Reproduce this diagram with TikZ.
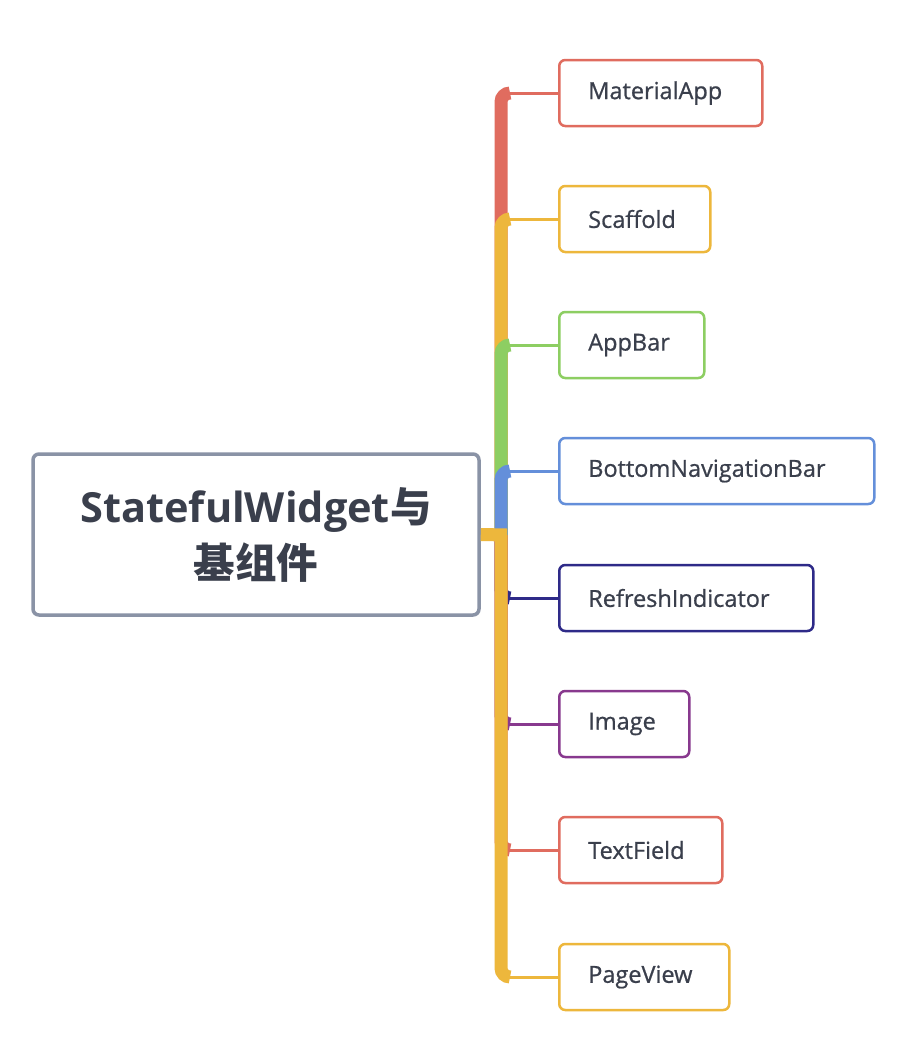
\documentclass[tikz,border=0pt]{standalone}
\usepackage{fontspec}
\setmainfont{Open Sans}
\newfontfamily\cjk{Noto Sans CJK SC}
\newfontfamily\semi{Open Sans}[FakeBold=0.8]
\begin{document}
\begin{tikzpicture}[x=1pt,y=-1pt,
  child/.style 2 args={draw=#1,line width=2.5pt,rounded corners=6pt,fill=white,anchor=west,minimum height=66pt,text width=#2pt-60pt,inner xsep=29pt,align=left,font=\semi\fontsize{23.5}{26}\selectfont,text=txt},
  trunk/.style={draw=#1,line width=13pt,rounded corners=9pt},
  stem/.style={draw=#1,line width=3pt}]
\definecolor{txt}{HTML}{3A3F4C}
\definecolor{cr}{HTML}{E06C5F}
\definecolor{cy}{HTML}{EDB73C}
\definecolor{cg}{HTML}{8DCE62}
\definecolor{cb}{HTML}{648FDA}
\definecolor{cn}{HTML}{2E2A88}
\definecolor{cp}{HTML}{88398E}
\definecolor{cgr}{HTML}{8A93A6}
\useasboundingbox[fill=white] (0,0) rectangle (906,1044);
\node[draw=cgr,line width=3.5pt,rounded corners=6pt,minimum width=446pt,minimum height=161pt,align=center,text=txt,font=\fontsize{41.5}{56}\selectfont\bfseries] (root) at (256,534.5) {StatefulWidget{\cjk 与}\\{\cjk 基组件}};
\node[child={cr}{205}] (c1) at (558,93) {MaterialApp};
\node[child={cy}{153}] (c2) at (558,219) {Scaffold};
\node[child={cg}{147}] (c3) at (558,345) {AppBar};
\node[child={cb}{317}] (c4) at (558,471) {BottomNavigationBar};
\node[child={cn}{256}] (c5) at (558,598) {RefreshIndicator};
\node[child={cp}{132}] (c6) at (558,724) {Image};
\node[child={cr}{165}] (c7) at (558,850) {TextField};
\node[child={cy}{172}] (c8) at (558,977) {PageView};
\coordinate (j) at (501,535);
\foreach \c/\col in {c1/cr,c2/cy,c3/cg,c4/cb,c5/cn,c6/cp,c7/cr,c8/cy}{
  \draw[stem=\col] (j |- \c.west) -- (\c.west);
}
\foreach \c/\col in {c1/cr,c2/cy,c3/cg,c4/cb,c5/cn,c6/cp,c7/cr,c8/cy}{
  \draw[trunk=\col] (j) -- (j |- \c.west) -- ([xshift=9pt]j |- \c.west);
}
\draw[line width=13pt,draw=cy] (root.east) -- ([xshift=6pt]j);
\end{tikzpicture}
\end{document}
